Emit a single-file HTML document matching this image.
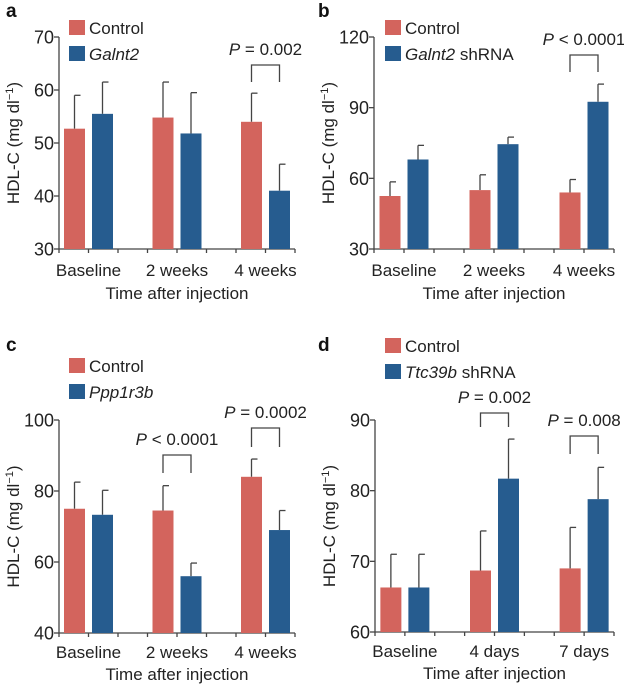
<!DOCTYPE html>
<html><head><meta charset="utf-8">
<style>
html,body{margin:0;padding:0;background:#fff;}
svg{display:block;font-family:"Liberation Sans",Arial,sans-serif;}
</style></head>
<body>
<svg id="fig" width="624" height="685" viewBox="0 0 624 685"></svg>
<script>
// Panel data
const categoriesA = ["Baseline","2 weeks","4 weeks"];
const controlA = [52.7,54.8,54.0];
const controlErrA = [6.3,6.7,5.4];
const treatA = [55.5,51.8,41.0];
const treatErrA = [6.0,7.7,5.0];
const ticksA = [30,40,50,60,70];

const categoriesB = ["Baseline","2 weeks","4 weeks"];
const controlB = [52.5,55.0,54.0];
const controlErrB = [6.0,6.5,5.5];
const treatB = [68.0,74.5,92.5];
const treatErrB = [6.0,3.0,7.5];
const ticksB = [30,60,90,120];

const categoriesC = ["Baseline","2 weeks","4 weeks"];
const controlC = [75.0,74.5,84.0];
const controlErrC = [7.5,7.0,5.0];
const treatC = [73.3,56.0,69.0];
const treatErrC = [6.9,3.7,5.5];
const ticksC = [40,60,80,100];

const categoriesD = ["Baseline","4 days","7 days"];
const controlD = [66.3,68.7,69.0];
const controlErrD = [4.7,5.6,5.8];
const treatD = [66.3,81.7,78.8];
const treatErrD = [4.7,5.6,4.5];
const ticksD = [60,70,80,90];

const NS="http://www.w3.org/2000/svg";
const svg=document.getElementById('fig');
const RED="#d3645d", BLUE="#265c8f", AX="#444";
function mk(tag,attrs,parent){const e=document.createElementNS(NS,tag);for(const k in attrs)e.setAttribute(k,attrs[k]);(parent||svg).appendChild(e);return e;}

function panel(p){
  const g=mk('g',{});
  
  
  const x0=p.x0,x1=p.x1,yTop=p.yTop,yBot=p.yBot;
  const vmin=p.ticks[0],vmax=p.ticks[p.ticks.length-1];
  const y=v=>yBot-(v-vmin)/(vmax-vmin)*(yBot-yTop);
  const step=(x1-x0)/8;
  const gc=i=>x0+step*(1+3*i);
  const L=mk('text',{x:p.lx,y:p.ly,'font-size':19,'font-weight':'bold',fill:'#111'},g);L.textContent=p.letter;
  
  
  const legs=[[RED,p.leg1,false],[BLUE,p.leg2,true]];
  legs.forEach((l,i)=>{
    const lg=mk('g',{},g);
    
    
    mk('rect',{x:p.legX,y:p.legY+i*26,width:16,height:15,fill:l[0]},lg);
    const t=mk('text',{x:p.legX+20,y:p.legY+i*26+14,'font-size':17,fill:'#222'},lg);
    if(l[2]){const it=mk('tspan',{'font-style':'italic'},t);it.textContent=l[1][0];if(l[1][1]){const s=mk('tspan',{},t);s.textContent=l[1][1];}}
    else t.textContent=l[1];
  });
  const ax=mk('path',{d:`M${x0} ${yTop}V${yBot}H${x1}`,stroke:AX,'stroke-width':1.3,fill:'none'},g);
  
  
  for(let k=0;k<=8;k++){mk('line',{x1:x0+step*k,x2:x0+step*k,y1:yBot,y2:yBot+4,stroke:AX,'stroke-width':1.3},g);}
  p.ticks.forEach(v=>{
    mk('line',{x1:x0-5,x2:x0,y1:y(v),y2:y(v),stroke:AX,'stroke-width':1.3},g);
    const t=mk('text',{x:x0-5,y:y(v)+6.5,'font-size':18,'text-anchor':'end',fill:'#222'},g);t.textContent=v;
    
    
  });
  p.cats.forEach((c,i)=>{
    [[p.ctrl,p.ctrlErr,RED,-14,'control'],[p.trt,p.trtErr,BLUE,14,'treatment']].forEach(s=>{
      const cx=gc(i)+s[3],v=s[0][i],e=s[1][i];
      mk('line',{x1:cx,x2:cx,y1:y(v),y2:y(v+e),stroke:AX,'stroke-width':1.3},g);
      mk('line',{x1:cx,x2:cx+6,y1:y(v+e),y2:y(v+e),stroke:AX,'stroke-width':1.3},g);
      const r=mk('rect',{x:cx-10.5,y:y(v),width:21,height:yBot-y(v),fill:s[2]},g);
      
      
    });
    const t=mk('text',{x:gc(i),y:yBot+p.lo,'font-size':17,'text-anchor':'middle',fill:'#222'},g);t.textContent=c;
    
    
  });
  const xt=mk('text',{x:gc(1),y:yBot+p.to,'font-size':17,'text-anchor':'middle',fill:'#222'},g);xt.textContent="Time after injection";
  
  
  const yt=mk('text',{x:0,y:0,'font-size':17,'text-anchor':'middle',fill:'#222',transform:`translate(${x0-40},${(yTop+yBot)/2}) rotate(-90)`},g);
  yt.innerHTML='HDL-C (mg dl<tspan dy="-6" font-size="11">−1</tspan><tspan dy="6">)</tspan>';
  
  
  p.sig.forEach(s=>{
    const a=gc(s.i)-14,b=gc(s.i)+14;
    const br=mk('path',{d:`M${a} ${s.yb}V${s.yt}H${b}V${s.yb}`,stroke:AX,'stroke-width':1.3,fill:'none'},g);
    
    
    const t=mk('text',{x:(a+b)/2,y:s.yt-10,'font-size':17,'text-anchor':'middle',fill:'#222'},g);
    t.innerHTML='<tspan font-style="italic">P</tspan> '+s.txt;
    
    
  });
}

panel({letter:'a',lx:6,ly:17,x0:59,x1:295,yTop:37,yBot:249,lo:27,to:50,ticks:ticksA,cats:categoriesA,ctrl:controlA,ctrlErr:controlErrA,trt:treatA,trtErr:treatErrA,
  legX:69,legY:20,leg1:'Control',leg2:['Galnt2',''],sig:[{i:2,yt:65,yb:82,txt:'= 0.002'}]});
panel({letter:'b',lx:318,ly:17,x0:374,x1:614,yTop:37,yBot:249,lo:27,to:50,ticks:ticksB,cats:categoriesB,ctrl:controlB,ctrlErr:controlErrB,trt:treatB,trtErr:treatErrB,
  legX:385,legY:20,leg1:'Control',leg2:['Galnt2',' shRNA'],sig:[{i:2,yt:55,yb:72,txt:'< 0.0001'}]});
panel({letter:'c',lx:6,ly:351,x0:59,x1:295,yTop:420,yBot:633,lo:25,to:47,ticks:ticksC,cats:categoriesC,ctrl:controlC,ctrlErr:controlErrC,trt:treatC,trtErr:treatErrC,
  legX:69,legY:358,leg1:'Control',leg2:['Ppp1r3b',''],sig:[{i:1,yt:455,yb:473,txt:'< 0.0001'},{i:2,yt:428,yb:447,txt:'= 0.0002'}]});
panel({letter:'d',lx:318,ly:351,x0:375,x1:614,yTop:420,yBot:632,lo:25,to:47,ticks:ticksD,cats:categoriesD,ctrl:controlD,ctrlErr:controlErrD,trt:treatD,trtErr:treatErrD,
  legX:385,legY:338,leg1:'Control',leg2:['Ttc39b',' shRNA'],sig:[{i:1,yt:413,yb:427,txt:'= 0.002'},{i:2,yt:436,yb:454,txt:'= 0.008'}]});
</script>
</body></html>
